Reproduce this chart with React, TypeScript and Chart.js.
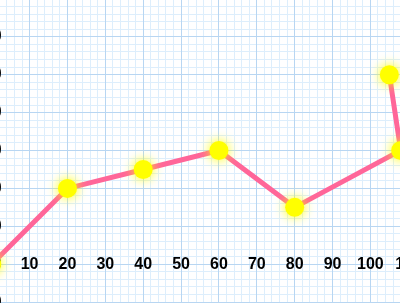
import React, { useEffect, useRef } from "react";
import { Chart, registerables } from "chart.js";

Chart.register(...registerables);

const xValues = [0, 20, 40, 60, 80, 108, 105];
const yValues = [0, 20, 25, 30, 15, 30, 50];
const xRange = [-20, 130];
const yRange = [-20, 80];
const yLabelMax = 60;
const majorStep = 10;
const minorStep = 2;

const MAJOR = "#b8d6f2";
const MINOR = "#ddeefc";
const FONT = { family: "'Liberation Sans', Arial, sans-serif", size: 16, weight: "bold" as const };

export default function App() {
  const ref = useRef<HTMLCanvasElement | null>(null);

  useEffect(() => {
    if (!ref.current) return;
    const pts = xValues.map((x, i) => ({ x, y: yValues[i] }));
    const xLabel = (v: any) => (v === xRange[0] || v === xRange[1] ? "" : String(v));
    const yLabel = (v: any) => (v === yRange[0] || v > yLabelMax ? "" : String(v));

    const glow = {
      id: "glow",
      beforeDatasetDraw(chart: any, args: any) {
        if (args.index === 0) {
          const ctx = chart.ctx;
          ctx.save();
          ctx.shadowColor = "rgba(255,255,0,1)";
          ctx.shadowBlur = 12;
        }
      },
      afterDatasetDraw(chart: any, args: any) {
        if (args.index === 0) chart.ctx.restore();
      },
    };

    const chart = new Chart(ref.current, {
      type: "scatter",
      data: {
        datasets: [
          {
            data: pts,
            showLine: false,
            pointRadius: 9.5,
            pointHoverRadius: 9.5,
            pointBackgroundColor: "#ffff00",
            pointBorderWidth: 0,
            borderColor: "#ffff00",
          },
          {
            data: pts,
            showLine: true,
            pointRadius: 0,
            borderColor: "#ff6699",
            borderWidth: 5,
            tension: 0,
          },
        ],
      },
      options: {
        animation: false,
        responsive: false,
        layout: { padding: 0, autoPadding: false },
        plugins: { legend: { display: false }, tooltip: { enabled: false } },
        scales: {
          xMinor: {
            type: "linear",
            axis: "x",
            position: { y: 0 },
            min: xRange[0],
            max: xRange[1],
            ticks: { display: false, stepSize: minorStep },
            grid: { color: MINOR, drawTicks: false, lineWidth: 1, z: -1 },
            border: { display: false },
          },
          yMinor: {
            type: "linear",
            axis: "y",
            position: { x: 0 },
            min: yRange[0],
            max: yRange[1],
            ticks: { display: false, stepSize: minorStep },
            grid: { color: MINOR, drawTicks: false, lineWidth: 1, z: -1 },
            border: { display: false },
          },
          x: {
            type: "linear",
            position: { y: 0 },
            min: xRange[0],
            max: xRange[1],
            ticks: {
              stepSize: majorStep,
              padding: -9.6,
              color: "#000",
              font: FONT,
              maxRotation: 0,
              autoSkip: false,
              callback: xLabel,
            },
            grid: { color: MAJOR, drawTicks: false, lineWidth: 1 },
            border: { display: false },
          },
          y: {
            type: "linear",
            position: { x: 2.6 },
            min: yRange[0],
            max: yRange[1],
            ticks: {
              stepSize: majorStep,
              padding: -10,
              color: "#000",
              font: FONT,
              autoSkip: false,
              callback: yLabel,
            },
            grid: { color: MAJOR, drawTicks: false, lineWidth: 1 },
            border: { display: false },
          },
        },
      },
      plugins: [glow],
    });
    return () => chart.destroy();
  }, []);

  return (
    <div
      style={{
        position: "fixed",
        left: 0,
        top: 0,
        width: 400,
        height: 303,
        overflow: "hidden",
        background: "#fff",
      }}
    >
      <canvas
        ref={ref}
        width={568}
        height={379}
        style={{ position: "absolute", left: -84, top: -39, width: 568, height: 379 }}
      />
    </div>
  );
}
